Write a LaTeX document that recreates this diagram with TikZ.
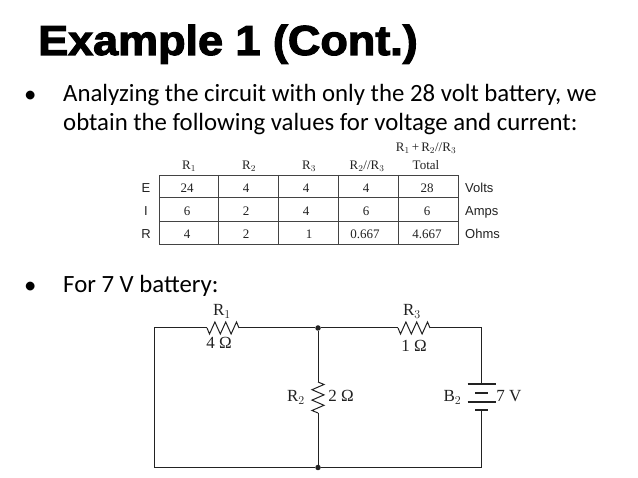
\documentclass[tikz,border=0pt]{standalone}
\usepackage{fontspec}
\setmainfont{Liberation Serif}
\newfontfamily\bodyf{Carlito}
\newfontfamily\headf{Liberation Sans}
\newfontfamily\heavyf{Liberation Sans}[BoldFeatures={FakeBold=2.6}]
\newfontfamily\serf{Liberation Serif}
\usetikzlibrary{calc}
\definecolor{ink}{HTML}{222222}
\tikzset{
  title/.style={anchor=base west,inner sep=0,text=black,xscale=1.07,font=\heavyf\bfseries\fontsize{42}{42}\selectfont},
  body/.style={anchor=base west,inner sep=0,text=black,font=\bodyf\fontsize{24.8}{24.8}\selectfont},
  cell/.style={anchor=base,inner sep=0,text=ink,font=\serf\fontsize{13}{13}\selectfont},
  side/.style={anchor=base west,inner sep=0,text=ink,font=\headf\fontsize{13}{13}\selectfont},
  lab/.style={anchor=base,inner sep=0,text=ink,font=\serf\fontsize{17}{17}\selectfont},
  grid line/.style={draw=ink!85,line width=0.9pt},
  wire/.style={draw=ink,line width=1pt,line join=miter},
  plate/.style={draw=ink,line width=1.1pt},
  dot/.style={circle,fill=ink,inner sep=0,minimum size=5.5pt},
}
\begin{document}
\begin{tikzpicture}[x=1pt,y=-1pt]
\useasboundingbox (0,0) rectangle (638,478);
\fill[white] (0,0) rectangle (638,478);
% title
\node[title] (t) at (38,55) {Example 1 (Cont.)};
% bullets
\node[body] (b1) at (24,102.5) {•};
\node[body] (l1) at (63,101.5) {Analyzing the circuit with only the 28 volt battery, we};
\node[body] (l2) at (63,131) {obtain the following values for voltage and current:};
\node[body] (b2) at (24,294) {•};
\node[body] (l3) at (63,293) {For 7 V battery:};
% table
\draw[grid line] (159,175) rectangle (458,244);
\foreach \y in {197.7,221} \draw[grid line] (159,\y) -- (458,\y);
\foreach \x in {218.7,278.7,338,398} \draw[grid line] (\x,175) -- (\x,244);
\node[cell] (h1) at (189,170) {R$_{1}$};
\node[cell] (h2) at (249,170) {R$_{2}$};
\node[cell] (h3) at (309,170) {R$_{3}$};
\node[cell] (h4) at (367,170) {R$_{2}$//R$_{3}$};
\node[cell] (h5) at (426,170) {Total};
\node[cell] (h6) at (426,152) {R$_{1}$\,+\,R$_{2}$//R$_{3}$};
\node[cell] (e1) at (187,193) {24};
\node[cell] (e2) at (246,193) {4};
\node[cell] (e3) at (306,193) {4};
\node[cell] (e4) at (366,193) {4};
\node[cell] (e5) at (427,193) {28};
\node[cell] (i1) at (187,216) {6};
\node[cell] (i2) at (246,216) {2};
\node[cell] (i3) at (306,216) {4};
\node[cell] (i4) at (366,216) {6};
\node[cell] (i5) at (427,216) {6};
\node[cell] (r1) at (187,239) {4};
\node[cell] (r2) at (246,239) {2};
\node[cell] (r3) at (309,239) {1};
\node[cell] (r4) at (365,239) {0.667};
\node[cell] (r5) at (427,239) {4.667};
\node[side,anchor=base] (se) at (146,192.5) {E};
\node[side,anchor=base] (si) at (146,216) {I};
\node[side,anchor=base] (sr) at (146,239) {R};
\node[side] (sv) at (465,192.5) {Volts};
\node[side] (sa) at (465,216) {Amps};
\node[side] (so) at (465,239) {Ohms};
% circuit points
\coordinate (tl) at (154.7,328);
\coordinate (bl) at (154.7,467.5);
\coordinate (tr) at (481.3,328);
\coordinate (br) at (481.3,467.5);
\node[dot] (top) at (318,328) {};
\node[dot] (bot) at (318,467.5) {};
\coordinate (r1a) at (207,328);
\coordinate (r1b) at (239,328);
\coordinate (r3a) at (398,328);
\coordinate (r3b) at (430,328);
\coordinate (r2a) at (318,382);
\coordinate (r2b) at (318,413);
\coordinate (bp) at (481.3,384);
\coordinate (bn) at (481.3,410);
% wires
\draw[wire] (r1a) -- (tl) -- (bl) -- (bot) -- (br) -- (bn);
\draw[wire] (r1b) -- (top) -- (r3a);
\draw[wire] (r3b) -- (tr) -- (bp);
\draw[wire] (top) -- (r2a);
\draw[wire] (r2b) -- (bot);
% resistors
\draw[wire] (r1a) -- ++(2.5,6) -- ++(5.4,-12) -- ++(5.4,12) -- ++(5.4,-12) -- ++(5.4,12) -- ++(5.4,-12) -- (r1b);
\draw[wire] (r3a) -- ++(2.5,6) -- ++(5.4,-12) -- ++(5.4,12) -- ++(5.4,-12) -- ++(5.4,12) -- ++(5.4,-12) -- (r3b);
\draw[wire] (r2a) -- ++(6,2.5) -- ++(-12,5.2) -- ++(12,5.2) -- ++(-12,5.2) -- ++(12,5.2) -- ++(-12,5.2) -- (r2b);
% battery
\draw[plate] (467.5,384) -- (495.5,384);
\draw[plate] (475,393) -- (488,393);
\draw[plate] (467.5,402) -- (495.5,402);
\draw[plate] (475,410) -- (488,410);
% circuit labels
\node[lab] (lr1) at (222,316) {R$_{1}$};
\node[lab] (vr1) at (219,349) {4 Ω};
\node[lab] (lr3) at (412,316) {R$_{3}$};
\node[lab] (vr3) at (414,352) {1 Ω};
\node[lab] (lr2) at (296,402) {R$_{2}$};
\node[lab] (vr2) at (341,402) {2 Ω};
\node[lab] (lb) at (452.5,402) {B$_{2}$};
\node[lab] (vb) at (509,402) {7 V};
\end{tikzpicture}
\end{document}
